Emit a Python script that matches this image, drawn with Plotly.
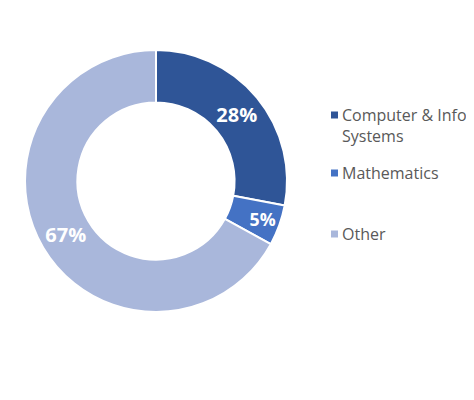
import plotly.graph_objects as go

# data
categories = ["Computer & Info<br>Systems", "Mathematics", "Other"]
shares = [28, 5, 67]
colors = ["#2F5597", "#4472C4", "#A9B7DB"]

W, H = 474, 400

fig = go.Figure(go.Pie(
    labels=categories,
    values=shares,
    hole=0.6,
    sort=False,
    direction="clockwise",
    rotation=0,
    marker=dict(colors=colors, line=dict(color="white", width=2)),
    textinfo="percent",
    texttemplate="<b>%{percent:.0%}</b>",
    textposition="inside",
    insidetextorientation="horizontal",
    textfont=dict(color="white", size=20, family="Open Sans"),
    domain=dict(x=[17 / W, 279 / W], y=[96 / H, 358 / H]),
    hoverinfo="label+percent",
    showlegend=False,
))

# Excel-style legend on the right: square key + grey label
legend_rows = [117.5, 165, 226]   # label centres, px from top of figure
for lab, col, yy in zip(categories, colors, legend_rows):
    key_y = yy - (10.5 if "<br>" in lab else 0)
    fig.add_shape(type="rect", xref="paper", yref="paper",
                  x0=323 / W, x1=330 / W,
                  y0=(H - key_y - 3.5) / H, y1=(H - key_y + 3.5) / H,
                  fillcolor=col, line=dict(width=0))
    fig.add_annotation(xref="paper", yref="paper", x=332 / W, y=(H - yy) / H,
                       xanchor="left", yanchor="middle", align="left",
                       text=lab, showarrow=False,
                       font=dict(size=16, color="#595959", family="Open Sans"))

fig.update_layout(
    width=W, height=H,
    paper_bgcolor="white", plot_bgcolor="white",
    margin=dict(l=0, r=0, t=0, b=0),
    font=dict(family="Open Sans", color="#595959"),
)

fig.write_html("out.html")
